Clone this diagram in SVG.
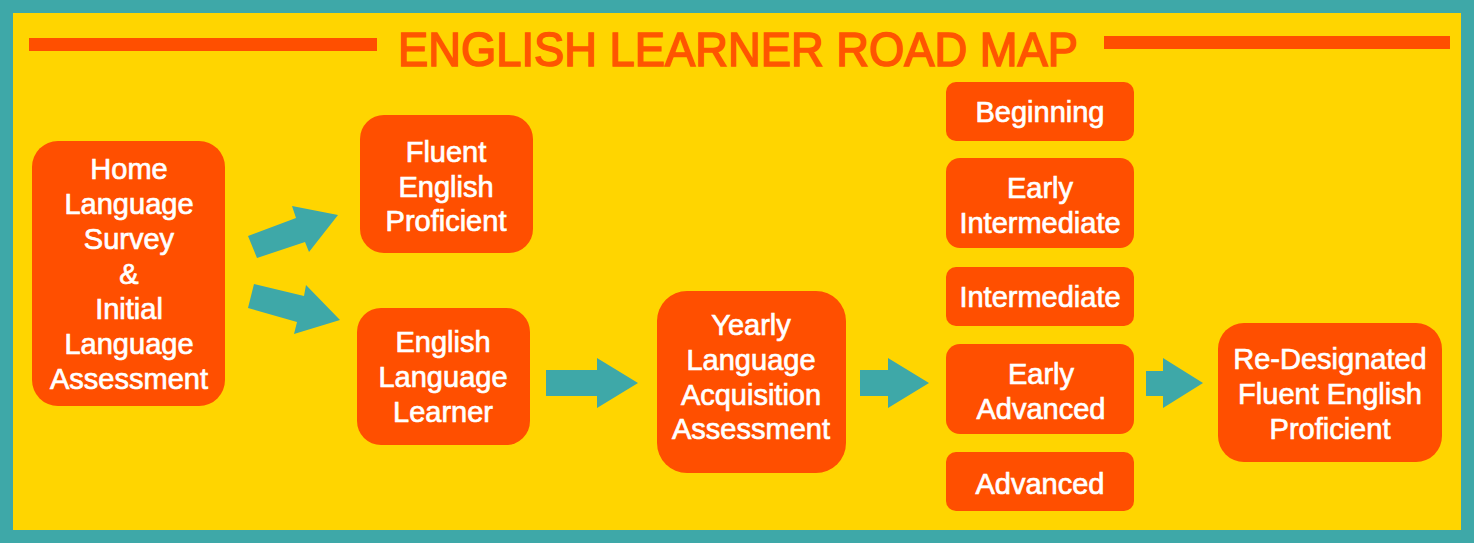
<svg xmlns="http://www.w3.org/2000/svg" width="1474" height="543" viewBox="0 0 1474 543">
<style>
.box{fill:#FF4F00}
.t{font-family:"Liberation Sans",Arial,sans-serif;font-size:29px;fill:#FFFFFF;text-anchor:middle;stroke:#FFFFFF;stroke-width:0.7}
.arr{fill:#3EA8A8}
.title{font-family:"Liberation Sans",Arial,sans-serif;font-size:49px;fill:#FF5500;text-anchor:middle;stroke:#FF5500;stroke-width:1.6}
</style>
<rect x="0" y="0" width="1474" height="543" fill="#3EA8A8"/>
<rect x="13" y="13" width="1448" height="517" fill="#FFD500"/>
<g id="title">
<rect x="29" y="38" width="348" height="13" fill="#FF4F00"/>
<rect x="1104" y="36" width="346" height="13" fill="#FF4F00"/>
<text class="title" x="738" y="66" textLength="680" lengthAdjust="spacingAndGlyphs">ENGLISH LEARNER ROAD MAP</text>
</g>
<g id="n-home">
<rect class="box" x="32" y="141" width="193" height="265" rx="26"/>
<text class="t" x="129" y="179">Home</text>
<text class="t" x="129" y="214">Language</text>
<text class="t" x="129" y="249">Survey</text>
<text class="t" x="129" y="284">&amp;</text>
<text class="t" x="129" y="319">Initial</text>
<text class="t" x="129" y="354">Language</text>
<text class="t" x="129" y="389">Assessment</text>
</g>
<g id="n-fep">
<rect class="box" x="360" y="115" width="173" height="138" rx="24"/>
<text class="t" x="446" y="162">Fluent</text>
<text class="t" x="446" y="197">English</text>
<text class="t" x="446" y="231">Proficient</text>
</g>
<g id="n-ell">
<rect class="box" x="357" y="308" width="173" height="137" rx="24"/>
<text class="t" x="443" y="352">English</text>
<text class="t" x="443" y="387">Language</text>
<text class="t" x="443" y="422">Learner</text>
</g>
<g id="n-yearly">
<rect class="box" x="657" y="291" width="189" height="182" rx="30"/>
<text class="t" x="751" y="335">Yearly</text>
<text class="t" x="751" y="370">Language</text>
<text class="t" x="751" y="405">Acquisition</text>
<text class="t" x="751" y="439">Assessment</text>
</g>
<g id="n-beginning">
<rect class="box" x="946" y="82" width="188" height="59" rx="10"/>
<text class="t" x="1040" y="122">Beginning</text>
</g>
<g id="n-early-intermediate">
<rect class="box" x="946" y="158" width="188" height="90" rx="14"/>
<text class="t" x="1040" y="198">Early</text>
<text class="t" x="1040" y="233">Intermediate</text>
</g>
<g id="n-intermediate">
<rect class="box" x="946" y="267" width="188" height="59" rx="10"/>
<text class="t" x="1040" y="307">Intermediate</text>
</g>
<g id="n-early-advanced">
<rect class="box" x="946" y="344" width="188" height="90" rx="14"/>
<text class="t" x="1041" y="384">Early</text>
<text class="t" x="1041" y="419">Advanced</text>
</g>
<g id="n-advanced">
<rect class="box" x="946" y="452" width="188" height="59" rx="10"/>
<text class="t" x="1040" y="494">Advanced</text>
</g>
<g id="n-rfep">
<rect class="box" x="1218" y="323" width="224" height="139" rx="26"/>
<text class="t" x="1330" y="369">Re-Designated</text>
<text class="t" x="1330" y="404">Fluent English</text>
<text class="t" x="1330" y="439">Proficient</text>
</g>
<g id="connectors">
<polygon class="arr" points="248,236 296,218 292,206 338,215 309,252 305,242 257,258"/>
<polygon class="arr" points="254,284 304,296 306,285 340,320 294,334 297,322 248,308"/>
<polygon class="arr" points="546,370 597,370 597,358 638,383 597,408 597,396 546,396"/>
<polygon class="arr" points="860,370 888,370 888,358 929,383 888,408 888,396 860,396"/>
<polygon class="arr" points="1146,371 1163,371 1163,358 1203,383 1163,408 1163,396 1146,396"/>
</g>
</svg>
